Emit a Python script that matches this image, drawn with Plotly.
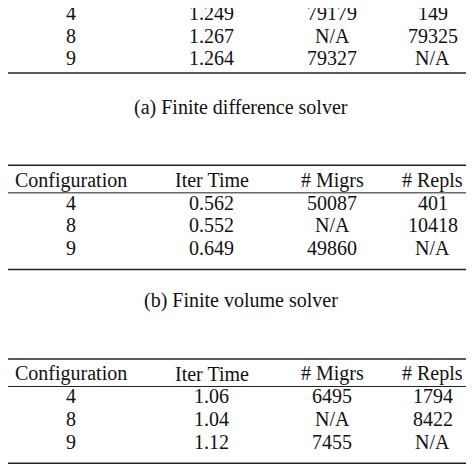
import plotly.graph_objects as go

headers = ["Configuration", "Iter Time", "# Migrs", "# Repls"]
configs = ["4", "8", "9"]
fd_time = ["1.249", "1.267", "1.264"]
fd_migrs = ["79179", "N/A", "79327"]
fd_repls = ["149", "79325", "N/A"]
fv_time = ["0.562", "0.552", "0.649"]
fv_migrs = ["50087", "N/A", "49860"]
fv_repls = ["401", "10418", "N/A"]
t3_time = ["1.06", "1.04", "1.12"]
t3_migrs = ["6495", "N/A", "7455"]
t3_repls = ["1794", "8422", "N/A"]
captions = ["(a) Finite difference solver", "(b) Finite volume solver"]

colx = [64, 207, 330, 432]
FONT = dict(family="Liberation Serif, DejaVu Serif, serif", size=20, color="#111")
ann = []
shapes = []

def txt(x, y, s):
    ann.append(dict(x=x, y=y, text=s, showarrow=False, xref="x", yref="y",
                    xanchor="center", yanchor="middle", font=FONT))

def hline(y, w=1.5):
    shapes.append(dict(type="line", xref="x", yref="y", x0=0, x1=474, y0=y, y1=y,
                       line=dict(color="#222", width=w)))

def table(top, rows_y, bottom, cols, header=True):
    if header:
        hline(top, 1.5)
        for x, h in zip(colx, headers):
            txt(x, top + 15, h)
        hline(top + 28, 1)
    for i, y in enumerate(rows_y):
        for x, col in zip(colx, cols):
            txt(x, y, col[i])
    hline(bottom, 1.5)

table(None, [5, 28, 51], 66, [configs, fd_time, fd_migrs, fd_repls], header=False)
txt(237, 101, captions[0])
table(160, [198, 221, 244], 266, [configs, fv_time, fv_migrs, fv_repls])
txt(237, 298, captions[1])
table(357, [395, 418, 441], 463, [configs, t3_time, t3_migrs, t3_repls])

fig = go.Figure(go.Scatter(x=[], y=[]))
fig.update_layout(width=466, height=466, margin=dict(l=0, r=0, t=0, b=0),
                  paper_bgcolor="white", plot_bgcolor="white",
                  xaxis=dict(range=[0, 474], visible=False),
                  yaxis=dict(range=[474, 0], visible=False),
                  annotations=ann, shapes=shapes, showlegend=False)
fig.write_html("out.html", config={"displayModeBar": False})
